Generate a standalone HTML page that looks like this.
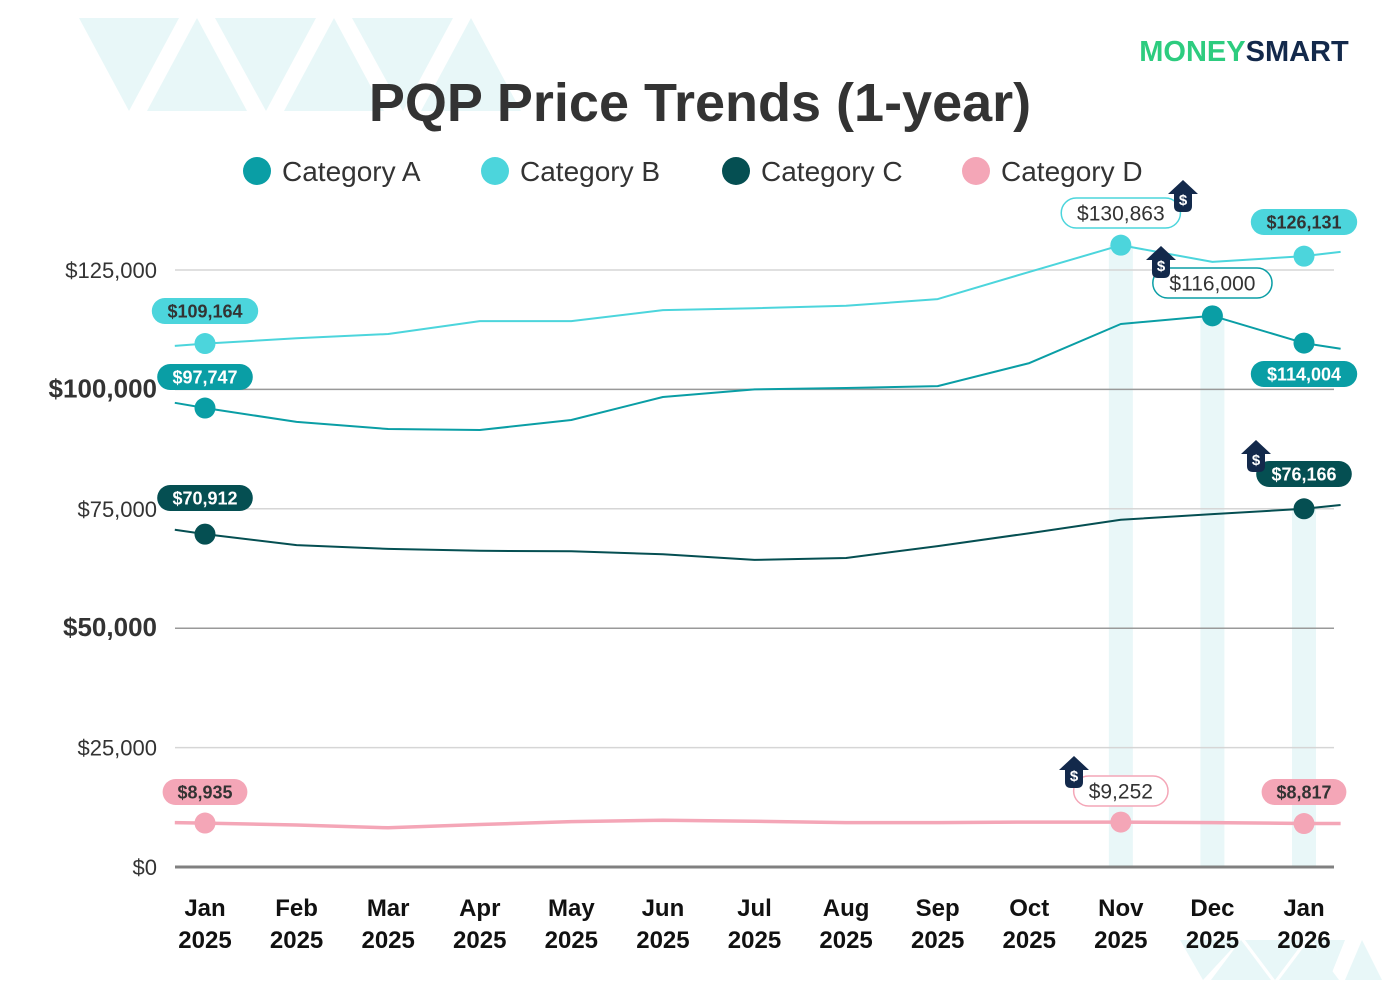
<!DOCTYPE html>
<html><head><meta charset="utf-8"><style>
html,body{margin:0;padding:0;background:#fff;}
body{width:1400px;height:1001px;overflow:hidden;font-family:"Liberation Sans",sans-serif;}
svg text{font-family:"Liberation Sans",sans-serif;}
</style></head><body>
<svg id="chart" width="1400" height="1001" viewBox="0 0 1400 1001" xmlns="http://www.w3.org/2000/svg">
<g id="deco" fill="#e8f7f8"></g>
<text x="1244" y="61" text-anchor="middle" font-size="29" font-weight="bold"><tspan fill="#2dcc7f">MONEY</tspan><tspan fill="#13294b">SMART</tspan></text>
<text x="700" y="121" text-anchor="middle" font-size="54" font-weight="bold" fill="#333">PQP Price Trends (1-year)</text>
<g id="legend"></g>
<g id="bands"></g>
<g id="grid"></g>
<g id="series"></g>
<g id="xaxis"></g>
<g id="labels"></g>
</svg>
<script>
const months = ["Jan","Feb","Mar","Apr","May","Jun","Jul","Aug","Sep","Oct","Nov","Dec","Jan"];
const years = ["2025","2025","2025","2025","2025","2025","2025","2025","2025","2025","2025","2025","2026"];
const yTicks = [0,25000,50000,75000,100000,125000];
const yTickLabels = ["$0","$25,000","$50,000","$75,000","$100,000","$125,000"];
const seriesNames = ["Category A","Category B","Category C","Category D"];
// line values: first = left edge (-0.33), then 13 months, then right edge (12.4)
const valuesA = [97200,96100,93200,91700,91500,93600,98400,100000,100300,100700,105500,113700,115400,109700,108500];
const valuesB = [109100,109600,110700,111600,114300,114300,116600,117000,117500,118900,124600,130200,126700,127900,128800];
const valuesC = [70600,69700,67400,66600,66200,66100,65500,64300,64700,67200,69900,72700,73900,75000,75800];
const valuesD = [9300,9200,8800,8200,8900,9500,9800,9600,9300,9300,9400,9400,9300,9100,9100];
const colors = ["#0a9ea5","#4cd5dc","#054f52","#f4a6b7"];
const highlightMonths = [10,11,12];

const NS="http://www.w3.org/2000/svg";
function el(t,a,p){const e=document.createElementNS(NS,t);for(const k in a)e.setAttribute(k,a[k]);if(p)p.appendChild(e);return e;}
const X0=205,DX=(1304-205)/12,Y0=867,YS=597/125000;
const xS=i=>X0+i*DX, yS=v=>Y0-v*YS;
const xIdx=[-0.33,0,1,2,3,4,5,6,7,8,9,10,11,12,12.4];

// decoration triangles
const deco=document.getElementById('deco');
[[79,18,179,18,129,111],[215,18,316,18,266,111],[352,18,453,18,403,111],
 [147,111,247,111,197,18],[284,111,384,111,334,18],[421,111,521,111,471,18],
 [1180,940,1240,940,1203,980],[1245,940,1305,940,1275,980],[1313,940,1345,940,1329,980],
 [1211,980,1271,980,1241,940],[1279,980,1339,980,1309,940],[1345,980,1382,980,1362,940]].forEach(t=>{
  const p=el('polygon',{points:`${t[0]},${t[1]} ${t[2]},${t[3]} ${t[4]},${t[5]}`},deco);
  
  
});

// legend
const leg=document.getElementById('legend');
const legX=[257,495,736,976];
seriesNames.forEach((n,i)=>{
  const g=el('g',{},leg);
  
  
  el('circle',{cx:legX[i],cy:171,r:14,fill:colors[i]},g);
  const t=el('text',{x:legX[i]+25,y:181,'font-size':28,fill:'#333'},g);t.textContent=n;
});

// highlight bands
const bands=document.getElementById('bands');
const bandTop=[valuesB[11],valuesA[12],valuesC[13]];
highlightMonths.forEach((m,i)=>{
  const r=el('rect',{x:xS(m)-12,y:yS(bandTop[i]),width:24,height:Y0-yS(bandTop[i]),fill:'#e9f7f8'},bands);
  
  
});

// grid
const grid=document.getElementById('grid');
yTicks.forEach((v,i)=>{
  const major=(v===50000||v===100000), zero=v===0;
  const l=el('line',{x1:175,x2:1334,y1:yS(v),y2:yS(v),stroke:zero?'#808080':(major?'#999':'#d6d6d6'),'stroke-width':zero?3:(major?1.5:1.5)},grid);
  
  
  const t=el('text',{x:157,y:yS(v)+8,'text-anchor':'end','font-size':major?26:22,'font-weight':major?'bold':'normal',fill:'#333'},grid);
  
  
  t.textContent=yTickLabels[i];
});

// series
const sg=document.getElementById('series');
[valuesA,valuesB,valuesC,valuesD].forEach((vals,si)=>{
  const pts=vals.map((v,i)=>`${xS(xIdx[i]).toFixed(1)},${yS(v).toFixed(1)}`).join(' ');
  const pl=el('polyline',{points:pts,fill:'none',stroke:colors[si],'stroke-width':si===3?3.5:2,'stroke-linejoin':'round'},sg);
  
  
});
// dots
const dots=[[0,[0,12]],[1,[0,10,12]],[0,[11]],[2,[0,12]],[3,[0,10,12]]];
const allVals=[valuesA,valuesB,valuesC,valuesD];
dots.forEach(([si,ms])=>ms.forEach(m=>{
  const c=el('circle',{cx:xS(m),cy:yS(allVals[si][m+1]),r:10.5,fill:colors[si]},sg);
  
  
}));

// x axis
const xa=document.getElementById('xaxis');
months.forEach((m,i)=>{
  const t=el('text',{x:xS(i),y:916,'text-anchor':'middle','font-size':24,'font-weight':'bold',fill:'#111'},xa);
  
  
  const s1=el('tspan',{x:xS(i)},t);s1.textContent=m;
  const s2=el('tspan',{x:xS(i),dy:32},t);s2.textContent=years[i];
});

// value labels
const lab=document.getElementById('labels');
const labels=[
 {t:"$109,164",m:0,y:311,c:1,fill:true,tc:'#333'},
 {t:"$97,747",m:0,y:377,c:0,fill:true,tc:'#fff'},
 {t:"$70,912",m:0,y:498,c:2,fill:true,tc:'#fff'},
 {t:"$8,935",m:0,y:792,c:3,fill:true,tc:'#333'},
 {t:"$130,863",m:10,y:213,c:1,fill:false,arrow:[1183,196]},
 {t:"$126,131",m:12,y:222,c:1,fill:true,tc:'#333'},
 {t:"$116,000",m:11,y:283,c:0,fill:false,arrow:[1161,262]},
 {t:"$114,004",m:12,y:374,c:0,fill:true,tc:'#fff'},
 {t:"$76,166",m:12,y:474,c:2,fill:true,tc:'#fff',arrow:[1256,456]},
 {t:"$9,252",m:10,y:791,c:3,fill:false,arrow:[1074,772]},
 {t:"$8,817",m:12,y:792,c:3,fill:true,tc:'#333'}];
labels.forEach(L=>{
  const g=el('g',{},lab);
  
  
  const fs=L.fill?18:21;
  const w=L.t.length*(L.fill?10.8:12.4)+20, h=L.fill?26:30;
  const cx=xS(L.m);
  el('rect',{x:cx-w/2,y:L.y-h/2,width:w,height:h,rx:h/2,fill:L.fill?colors[L.c]:'#fff',stroke:L.fill?'none':colors[L.c],'stroke-width':1.5},g);
  const t=el('text',{x:cx,y:L.y+fs*0.36,'text-anchor':'middle','font-size':fs,'font-weight':L.fill?'bold':'normal',fill:L.fill?L.tc:'#333'},g);
  t.textContent=L.t;
  if(L.arrow){
    const [ax,ay]=L.arrow;
    const a=el('g',{},lab);
    
    
    el('path',{d:`M${ax} ${ay-16} L${ax+15} ${ay-2} L${ax+9} ${ay-2} L${ax+9} ${ay+10} Q${ax+9} ${ay+16} ${ax+3} ${ay+16} L${ax-3} ${ay+16} Q${ax-9} ${ay+16} ${ax-9} ${ay+10} L${ax-9} ${ay-2} L${ax-15} ${ay-2} Z`,fill:'#13294b'},a);
    const s=el('text',{x:ax,y:ay+9,'text-anchor':'middle','font-size':15,'font-weight':'bold',fill:'#fff'},a);s.textContent='$';
  }
});
</script>
</body></html>
